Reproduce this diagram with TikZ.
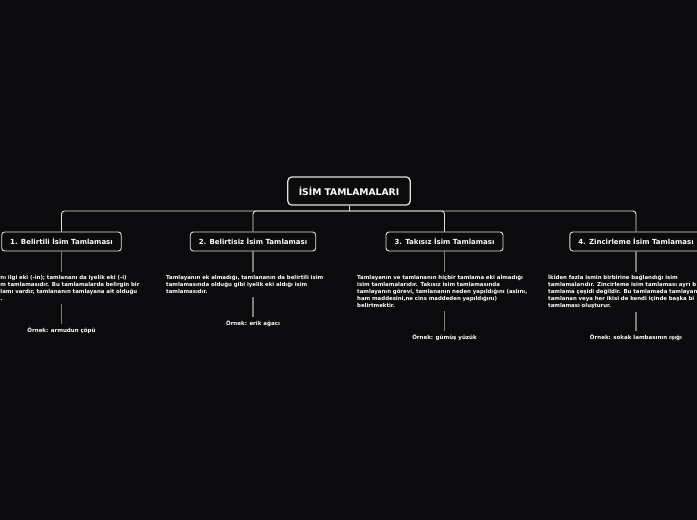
\documentclass[tikz,border=0pt]{standalone}
\usepackage{fontspec}
\setmainfont{DejaVu Sans}
\definecolor{bg}{RGB}{11,11,13}
\definecolor{linegray}{RGB}{125,125,125}
\definecolor{boxline}{RGB}{225,225,225}
\tikzset{
  rootbox/.style={draw=boxline, line width=1.3pt, rounded corners=4pt, fill=bg, text=white,
    font=\bfseries\fontsize{9.2}{11}\selectfont, minimum height=28pt, inner xsep=11pt, inner ysep=0pt},
  headbox/.style={draw=boxline, line width=0.9pt, rounded corners=3pt, fill=bg, text=white,
    font=\bfseries\fontsize{7}{8}\selectfont, minimum height=19pt, inner xsep=8.5pt, inner ysep=0pt},
  bodytext/.style={text=white, font=\bfseries\fontsize{5.4}{7}\selectfont, align=left,
    text width=200pt, inner sep=0pt, anchor=north west},
  extext/.style={text=white, font=\bfseries\fontsize{5.5}{7}\selectfont, inner sep=0pt,
    anchor=base, text height=4pt, text depth=1.5pt},
  upperline/.style={draw=boxline, line width=0.9pt, rounded corners=3pt},
  lowerline/.style={draw=linegray, line width=1.3pt},
}
\begin{document}
\begin{tikzpicture}[x=1pt,y=-1pt]
  \fill[bg] (0,0) rectangle (697,520);
  \useasboundingbox (0,0) rectangle (697,520);
  \clip (0,0) rectangle (697,520);

  % root
  \node[rootbox] (root) at (349,191) {İSİM TAMLAMALARI};
  \coordinate (bus) at (349,211);

  % headings
  \node[headbox] (h1) at (61.5,241.5) {1. Belirtili İsim Tamlaması};
  \node[headbox] (h2) at (253,241.5) {2. Belirtisiz İsim Tamlaması};
  \node[headbox] (h3) at (444.5,241.5) {3. Takısız İsim Tamlaması};
  \node[headbox] (h4) at (636,241.5) {4. Zincirleme İsim Tamlaması};

  % upper connectors
  \draw[upperline] (root.south) -- (bus);
  \draw[upperline] (bus) -| (h1.north);
  \draw[upperline] (bus) -| (h2.north);
  \draw[upperline] (bus) -| (h3.north);
  \draw[upperline] (bus) -| (h4.north);

  % body texts
  \node[bodytext] (t1) at (0.3,274.6) {\strut nı ilgi eki (-in); tamlananı da iyelik eki (-i)\\
    m tamlamasıdır. Bu tamlamalarda belirgin bir\\
    lamı vardır, tamlananın tamlayana ait olduğu\\
    .\strut};
  \node[bodytext] (t2) at (166,274.6) {\strut Tamlayanın ek almadığı, tamlananın da belirtili isim\\
    tamlamasında olduğu gibi iyelik eki aldığı isim\\
    tamlamasıdır.\strut};
  \node[bodytext] (t3) at (357,274.6) {\strut Tamlayanın ve tamlananın hiçbir tamlama eki almadığı\\
    isim tamlamalarıdır. Takısız isim tamlamasında\\
    tamlayanın görevi, tamlananın neden yapıldığını (aslını,\\
    ham maddesini,ne cins maddeden yapıldığını)\\
    belirtmektir.\strut};
  \node[bodytext] (t4) at (548,274.6) {\strut İkiden fazla ismin birbirine bağlandığı isim\\
    tamlamalarıdır. Zincirleme isim tamlaması ayrı b\\
    tamlama çeşidi değildir. Bu tamlamada tamlayan\\
    tamlanan veya her ikisi de kendi içinde başka bi\\
    tamlaması oluşturur.\strut};

  % examples
  \node[extext] (e1) at (61.5,332.3) {Örnek: armudun çöpü};
  \node[extext] (e2) at (253,325.3) {Örnek: erik ağacı};
  \node[extext] (e3) at (444.5,339.3) {Örnek: gümüş yüzük};
  \node[extext] (e4) at (636,339.3) {Örnek: sokak lambasının ışığı};

  % lower connectors
  \foreach \i in {1,2,3,4}{
    \draw[lowerline] (h\i.south) -- ([yshift=2.6pt]t\i.north -| h\i.south);
    \draw[lowerline] ([yshift=-1.4pt]t\i.south -| h\i.south) -- ([yshift=3.8pt]e\i.north);
  }
\end{tikzpicture}
\end{document}
